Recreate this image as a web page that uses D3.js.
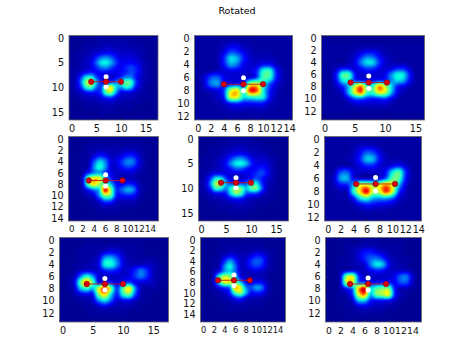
<!DOCTYPE html>
<html lang="en">
<head>
  <meta charset="UTF-8">
  <title>Rotated</title>
  <script src="https://d3js.org/d3.v7.min.js"></script>
  <style>
    body { margin: 0; background: #fff; }
    text { font-family: "DejaVu Sans", sans-serif; }
  </style>
</head>

<body>
  <div id="chart"></div>
  <script>
    // cell intensities, 0-100
    const heat1 = [
      [2,2,2,2,2,3,3,3,3,3,3,3,3,2,2,2,2,2],
      [2,2,2,3,3,3,4,4,4,4,4,4,3,3,3,2,2,2],
      [2,2,3,3,4,4,5,6,6,5,5,5,4,4,3,3,2,2],
      [2,3,3,4,5,7,9,10,10,8,6,6,6,5,4,3,2,2],
      [2,3,4,5,7,14,22,25,20,13,8,8,8,7,5,3,2,2],
      [3,3,4,6,9,20,33,35,28,17,10,10,11,9,6,4,3,2],
      [3,3,5,6,9,14,22,24,18,12,10,14,17,14,8,4,3,2],
      [3,4,7,12,14,11,11,10,9,9,11,14,18,14,8,4,3,2],
      [3,6,18,36,38,20,10,7,7,10,16,24,24,13,6,4,3,2],
      [4,7,24,52,56,30,14,12,20,24,36,46,42,18,7,4,3,2],
      [3,6,16,38,42,22,18,50,62,34,26,36,30,12,6,3,2,2],
      [3,4,7,12,14,12,18,46,52,26,10,10,9,6,4,3,2,2],
      [2,3,4,5,6,6,9,16,18,10,6,5,5,4,3,3,2,2],
      [2,2,3,3,4,4,5,6,6,5,4,4,3,3,3,2,2,2],
      [2,2,2,3,3,3,3,4,4,3,3,3,3,2,2,2,2,2],
      [2,2,2,2,2,2,3,3,3,3,2,2,2,2,2,2,2,2],
      [2,2,2,2,2,2,2,2,2,2,2,2,2,2,2,2,2,2]
    ];
    const heat2 = [
      [3,3,3,3,3,3,3,3,3,3,3,3,3,3,3],
      [3,3,3,3,5,8,8,5,4,3,3,3,3,3,3],
      [3,3,3,4,8,17,15,9,5,4,4,4,3,3,3],
      [3,3,3,4,14,32,28,14,7,5,5,5,4,3,3],
      [3,3,3,4,12,26,22,10,7,7,12,12,6,3,3],
      [3,3,4,6,7,9,9,8,8,14,38,40,14,5,3],
      [3,7,18,20,10,8,7,7,9,18,42,40,14,5,3],
      [3,7,22,26,12,12,14,16,55,60,40,20,8,4,3],
      [3,4,7,9,16,55,65,35,85,82,38,14,6,3,3],
      [3,3,4,7,14,60,62,35,40,42,36,12,5,3,3],
      [3,3,3,4,6,14,16,12,12,13,12,6,4,3,3],
      [3,3,3,3,4,5,6,5,5,5,5,4,3,3,3],
      [3,3,3,3,3,3,3,3,3,3,3,3,3,3,3]
    ];
    const heat3 = [
      [2,2,2,2,2,2,2,2,2,2,2,2,2,2,2,2,2],
      [3,3,3,3,3,3,3,3,3,3,3,3,3,3,3,3,3],
      [3,3,3,3,3,4,6,8,8,6,4,3,3,3,3,3,3],
      [3,3,3,3,4,7,14,22,20,11,6,4,3,3,3,3,3],
      [3,3,3,3,5,9,22,33,32,16,7,5,4,4,3,3,3],
      [3,3,6,12,12,7,12,17,16,10,7,8,14,14,7,3,3],
      [3,3,14,42,42,14,7,7,7,7,10,24,36,34,14,4,3],
      [3,3,12,34,36,18,14,12,12,16,16,24,32,28,12,4,3],
      [3,3,6,14,30,58,78,42,42,74,58,34,14,9,5,3,3],
      [3,3,4,8,30,60,78,44,42,62,56,30,10,5,3,3,3],
      [3,3,3,4,10,20,22,16,14,16,18,10,5,3,3,3,3],
      [3,3,3,3,4,6,7,6,6,6,6,4,3,3,3,3,3],
      [3,3,3,3,3,3,3,3,3,3,3,3,3,3,3,3,3],
      [2,2,2,2,2,2,2,2,2,2,2,2,2,2,2,2,2]
    ];
    const heat4 = [
      [2,2,2,2,2,2,2,2,2,2,2,2,2,2,2,2],
      [2,2,2,3,3,3,3,3,3,3,3,3,3,2,2,2],
      [2,2,2,3,4,5,5,4,4,5,6,6,4,3,2,2],
      [2,2,3,3,8,14,12,6,6,9,14,14,7,3,2,2],
      [2,2,3,4,18,32,24,9,8,16,24,22,9,4,2,2],
      [2,2,3,5,24,38,26,8,7,12,16,14,7,3,2,2],
      [2,2,4,14,24,28,18,10,6,6,7,7,4,3,2,2],
      [2,2,8,48,66,62,36,14,7,5,5,5,3,2,2,2],
      [2,2,8,46,66,52,44,30,12,10,14,12,5,3,2,2],
      [2,2,4,14,24,34,88,52,16,20,28,24,7,3,2,2],
      [2,2,3,5,8,26,52,46,14,12,14,12,5,2,2,2],
      [2,2,2,3,4,9,20,18,7,5,5,5,3,2,2,2],
      [2,2,2,2,3,4,5,5,4,3,3,3,2,2,2,2],
      [2,2,2,2,2,3,3,3,3,2,2,2,2,2,2,2],
      [2,2,2,2,2,2,2,2,2,2,2,2,2,2,2,2]
    ];
    const heat5 = [
      [2,2,2,2,2,2,3,3,3,3,3,2,2,2,2,2,2,2],
      [2,2,2,2,3,3,3,4,4,4,3,3,3,2,2,2,2,2],
      [2,2,3,3,3,4,5,6,6,5,4,4,3,3,3,2,2,2],
      [2,2,3,3,4,6,8,10,11,9,6,5,5,4,3,2,2,2],
      [2,3,3,4,6,9,16,24,26,20,11,7,7,6,4,3,2,2],
      [2,3,3,5,7,12,24,34,36,30,15,9,9,8,5,3,2,2],
      [3,3,4,5,7,9,14,20,20,14,10,11,14,11,6,3,2,2],
      [3,4,7,10,10,9,8,8,8,9,11,15,18,13,6,3,2,2],
      [3,6,18,36,34,17,8,7,7,9,12,18,14,8,5,3,2,2],
      [4,7,26,54,50,28,18,18,18,20,32,36,18,7,4,3,2,2],
      [3,6,18,40,36,24,38,52,46,30,44,48,24,7,4,3,2,2],
      [3,4,7,12,12,14,34,50,42,20,18,18,10,5,3,2,2,2],
      [2,3,4,5,5,7,12,16,14,8,6,5,4,3,3,2,2,2],
      [2,2,3,3,4,4,5,6,6,5,4,3,3,3,2,2,2,2],
      [2,2,2,3,3,3,3,4,4,3,3,3,2,2,2,2,2,2],
      [2,2,2,2,2,2,3,3,3,3,2,2,2,2,2,2,2,2],
      [2,2,2,2,2,2,2,2,2,2,2,2,2,2,2,2,2,2]
    ];
    const heat6 = [
      [3,3,3,3,3,3,3,3,3,3,3,3,3,3,3],
      [3,3,3,3,4,6,7,6,4,3,3,3,3,3,3],
      [3,3,3,3,5,11,20,18,9,4,3,3,3,3,3],
      [3,3,3,4,6,14,30,28,12,5,4,4,3,3,3],
      [3,3,4,4,5,9,14,14,8,6,9,12,7,3,3],
      [3,5,18,20,8,6,6,6,7,12,34,44,16,4,3],
      [4,7,26,28,10,8,7,8,10,22,46,44,14,4,3],
      [3,5,12,14,30,58,62,50,60,74,60,30,9,3,3],
      [3,3,5,6,38,66,90,56,60,84,60,18,6,3,3],
      [3,3,4,4,14,36,44,30,28,30,22,8,4,3,3],
      [3,3,3,3,5,10,14,12,10,9,7,4,3,3,3],
      [3,3,3,3,3,4,5,4,4,4,3,3,3,3,3],
      [3,3,3,3,3,3,3,3,3,3,3,3,3,3,3]
    ];
    const heat7 = [
      [2,2,2,2,2,2,2,2,2,2,2,2,2,2,2,2,2,2],
      [2,2,2,2,3,3,3,3,4,4,3,3,3,2,2,2,2,2],
      [2,2,2,3,3,3,4,9,11,9,5,3,3,3,2,2,2,2],
      [2,2,2,3,3,4,8,28,30,20,8,4,3,3,3,3,2,2],
      [2,2,3,3,4,5,10,36,38,24,9,5,5,6,6,5,3,2],
      [2,2,3,6,8,7,7,14,16,12,6,8,14,22,14,5,3,2],
      [2,3,6,24,40,26,8,7,6,6,7,9,16,22,14,5,3,2],
      [2,3,10,48,72,44,12,18,14,8,14,18,10,7,7,5,3,2],
      [2,3,7,30,40,30,60,88,50,16,46,64,24,5,3,3,2,2],
      [2,2,4,8,10,12,50,66,34,14,38,46,18,4,3,2,2,2],
      [2,2,2,3,4,7,24,34,20,7,10,11,6,3,2,2,2,2],
      [2,2,2,2,3,3,6,9,6,4,4,4,3,2,2,2,2,2],
      [2,2,2,2,2,3,3,3,3,3,3,2,2,2,2,2,2,2],
      [2,2,2,2,2,2,2,2,2,2,2,2,2,2,2,2,2,2]
    ];
    const heat8 = [
      [2,2,2,2,2,2,2,2,2,2,2,2,2,2,2,2],
      [2,2,2,2,3,3,3,3,3,3,3,3,2,2,2,2],
      [2,2,2,3,3,4,4,3,3,4,5,5,3,3,2,2],
      [2,2,2,3,6,10,8,5,5,9,13,12,6,3,2,2],
      [2,2,3,4,14,26,16,6,7,15,20,17,7,3,2,2],
      [2,2,3,5,24,36,22,7,7,13,16,13,6,3,2,2],
      [2,2,4,12,26,32,22,8,5,6,7,6,4,3,2,2],
      [2,2,7,40,58,52,34,11,6,5,5,5,3,2,2,2],
      [2,2,7,36,62,60,46,30,12,9,11,10,5,2,2,2],
      [2,2,4,11,18,24,70,58,26,18,26,22,7,3,2,2],
      [2,2,3,4,7,14,44,54,30,12,14,12,5,2,2,2],
      [2,2,2,3,4,6,14,18,9,5,5,4,3,2,2,2],
      [2,2,2,2,3,3,5,5,4,3,3,3,2,2,2,2],
      [2,2,2,2,2,3,3,3,3,2,2,2,2,2,2,2],
      [2,2,2,2,2,2,2,2,2,2,2,2,2,2,2,2],
      [2,2,2,2,2,2,2,2,2,2,2,2,2,2,2,2]
    ];
    const heat9 = [
      [2,2,2,2,2,2,3,3,3,2,2,2,2,2,2,2],
      [2,2,2,3,3,4,5,5,4,3,3,3,3,2,2,2],
      [2,2,2,3,4,7,12,13,10,7,4,3,3,2,2,2],
      [2,2,3,3,4,7,14,20,22,16,7,4,3,3,2,2],
      [2,2,3,3,4,5,8,22,34,30,11,5,4,3,2,2],
      [2,2,3,6,8,6,6,10,14,12,7,6,6,6,3,2],
      [2,2,8,52,58,18,6,6,6,6,7,10,20,22,7,2],
      [2,2,8,56,60,24,20,12,12,14,14,10,18,18,6,2],
      [2,2,4,14,24,70,90,36,44,48,50,14,5,5,3,2],
      [2,2,3,5,16,60,76,30,48,54,60,16,5,3,2,2],
      [2,2,2,3,7,30,32,14,12,13,12,6,3,2,2,2],
      [2,2,2,3,3,7,9,6,5,5,4,3,2,2,2,2],
      [2,2,2,2,3,3,4,3,3,3,2,2,2,2,2,2],
      [2,2,2,2,2,2,2,2,2,2,2,2,2,2,2,2]
    ];
    const heats = [heat1, heat2, heat3, heat4, heat5, heat6, heat7, heat8, heat9];

    // the three red joints on each panel, and the two white points around the middle one
    const redX = [[4, 7, 10], [4, 7, 10], [4.3, 7.3, 10.3], [3.1, 6.1, 9.1], [4, 7, 10], [4.4, 7.4, 10.4], [4, 7, 10], [2.8, 5.8, 8.8], [3.6, 6.6, 9.6]];
    const redY = [8.8, 7, 7.3, 7.3, 8.8, 6.8, 7.2, 7.6, 7.2];
    const whiteTop = [7.8, 6, 6.2, 6.3, 7.8, 5.8, 6.3, 6.6, 6.2];
    const whiteBottom = [9.8, 8, 8.3, 8.3, 9.8, 7.9, 8.2, 8.6, 8.2];

    const xTicks = [
      [0, 5, 10, 15], [0, 2, 4, 6, 8, 10, 12, 14], [0, 5, 10, 15],
      [0, 2, 4, 6, 8, 10, 12, 14], [0, 5, 10, 15], [0, 2, 4, 6, 8, 10, 12, 14],
      [0, 5, 10, 15], [0, 2, 4, 6, 8, 10, 12, 14], [0, 2, 4, 6, 8, 10, 12, 14]
    ];
    const yTicks = [
      [0, 5, 10, 15], [0, 2, 4, 6, 8, 10, 12], [0, 2, 4, 6, 8, 10, 12],
      [0, 2, 4, 6, 8, 10, 12, 14], [0, 5, 10, 15], [0, 2, 4, 6, 8, 10, 12],
      [0, 2, 4, 6, 8, 10, 12], [0, 2, 4, 6, 8, 10, 12, 14], [0, 2, 4, 6, 8, 10, 12]
    ];

    const jetStops = [0, 11, 36, 64, 89, 100];
    const jetColors = ["#00007f", "#0000ff", "#00ffe8", "#ffff00", "#ff0000", "#7f0000"];

    const svgWidth = 474;
    const svgHeight = 357;

    // pixel box of each axes: left, right, top, bottom
    const boxes = [
      [69, 158, 35.5, 120], [194.5, 292.5, 35.5, 120], [321.5, 424.5, 35.5, 120],
      [68.5, 158.5, 136.5, 221], [198.5, 288.5, 136.5, 221], [324.5, 421.5, 136.5, 221],
      [59.5, 168.5, 237.5, 322], [200.5, 285.5, 237.5, 322], [325.5, 421.5, 237.5, 322]
    ];

    const svg = d3.select("#chart")
      .append("svg")
      .attr("width", svgWidth)
      .attr("height", svgHeight)
      .style("display", "block");

    svg.append("text")
      .attr("x", 237)
      .attr("y", 14)
      .attr("text-anchor", "middle")
      .attr("font-size", "9.5px")
      .text("Rotated");

    const colorScale = d3.scaleLinear().domain(jetStops).range(jetColors).clamp(true);

    function cubic(a, b, c, d, t) {
      return b + 0.5 * t * (c - a + t * (2 * a - 5 * b + 4 * c - d + t * (3 * (b - c) + d - a)));
    }

    // same smoothing imshow does, done on a canvas and put in the svg as an image
    function heatImage(grid, xScale, yScale, w, h) {
      const rows = grid.length, cols = grid[0].length;
      const canvas = document.createElement("canvas");
      canvas.width = w;
      canvas.height = h;
      const ctx = canvas.getContext("2d");
      const img = ctx.createImageData(w, h);
      const [x0] = xScale.range();
      const [y0] = yScale.range();
      const at = (r, c) => grid[Math.max(0, Math.min(rows - 1, r))][Math.max(0, Math.min(cols - 1, c))];
      for (let py = 0; py < h; py++) {
        const v = yScale.invert(y0 + py + 0.5);
        const r = Math.floor(v), ty = v - r;
        for (let px = 0; px < w; px++) {
          const u = xScale.invert(x0 + px + 0.5);
          const c = Math.floor(u), tx = u - c;
          const line = [-1, 0, 1, 2].map(k =>
            cubic(at(r + k, c - 1), at(r + k, c), at(r + k, c + 1), at(r + k, c + 2), tx));
          const col = d3.rgb(colorScale(cubic(line[0], line[1], line[2], line[3], ty)));
          const i = (py * w + px) * 4;
          img.data[i] = col.r;
          img.data[i + 1] = col.g;
          img.data[i + 2] = col.b;
          img.data[i + 3] = 255;
        }
      }
      ctx.putImageData(img, 0, 0);
      return canvas.toDataURL();
    }

    heats.forEach((grid, n) => {
      const [left, right, top, bottom] = boxes[n];
      const xScale = d3.scaleLinear().domain([-0.5, grid[0].length - 0.5]).range([left, right]);
      const yScale = d3.scaleLinear().domain([-0.5, grid.length - 0.5]).range([top, bottom]);
      const g = svg.append("g");

      g.append("image")
        .attr("x", left)
        .attr("y", top)
        .attr("width", right - left)
        .attr("height", bottom - top)
        .attr("preserveAspectRatio", "none")
        .attr("href", heatImage(grid, xScale, yScale, Math.round(right - left), Math.round(bottom - top)));

      g.append("path")
        .attr("d", d3.line().x(d => xScale(d)).y(() => yScale(redY[n]))(redX[n]))
        .attr("fill", "none")
        .attr("stroke", "#c01020")
        .attr("stroke-width", 0.9);

      g.selectAll(".white")
        .data([whiteTop[n], whiteBottom[n]])
        .enter()
        .append("circle")
        .attr("cx", xScale(redX[n][1]))
        .attr("cy", d => yScale(d))
        .attr("r", 2.5)
        .attr("fill", "#fff");

      g.selectAll(".red")
        .data(redX[n])
        .enter()
        .append("circle")
        .attr("cx", d => xScale(d))
        .attr("cy", yScale(redY[n]))
        .attr("r", 2.8)
        .attr("fill", "#d80010")
        .attr("stroke", "#700000")
        .attr("stroke-width", 0.5);

      const xAxis = d3.axisBottom(xScale).tickValues(xTicks[n]).tickSizeInner(-2).tickSizeOuter(0).tickPadding(5);
      const yAxis = d3.axisLeft(yScale).tickValues(yTicks[n]).tickSizeInner(-2).tickSizeOuter(0).tickPadding(5);

      const gx = g.append("g").attr("transform", `translate(0, ${bottom})`).call(xAxis);
      const gy = g.append("g").attr("transform", `translate(${left}, 0)`).call(yAxis);
      // narrow panels: 10 12 14 sit edge to edge, so the x labels shrink to fit
      const spacing = xScale(xTicks[n][1]) - xScale(xTicks[n][0]);
      gx.selectAll("text").attr("font-size", Math.min(9.6, spacing / 1.28) + "px");
      gy.selectAll("text").attr("font-size", "9.6px");
      for (const a of [gx, gy]) {
        a.selectAll("text").attr("font-family", "DejaVu Sans").attr("fill", "#111");
        a.selectAll("line").attr("stroke", "#333").attr("stroke-width", 0.5);
        a.select(".domain").remove();
      }

      g.append("rect")
        .attr("x", left)
        .attr("y", top)
        .attr("width", right - left)
        .attr("height", bottom - top)
        .attr("fill", "none")
        .attr("stroke", "#666")
        .attr("stroke-width", 0.8);
    });
  </script>
</body>
</html>
